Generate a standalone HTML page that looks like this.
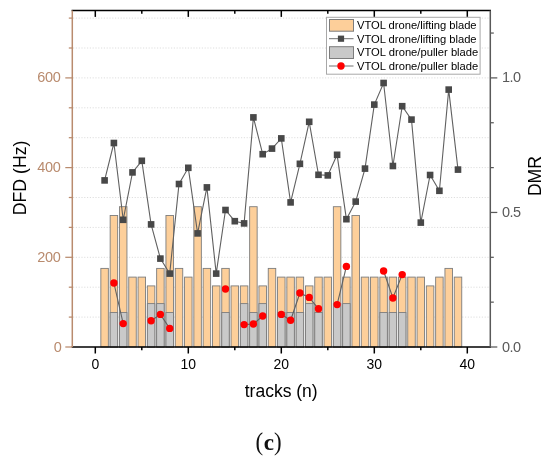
<!DOCTYPE html>
<html lang="en"><head><meta charset="utf-8"><title>Figure (c)</title>
<style>html,body{margin:0;padding:0;background:#fff}body{width:550px;height:460px;overflow:hidden}</style></head>
<body>
<svg width="550" height="460" viewBox="0 0 550 460" style="display:block">
<rect width="550" height="460" fill="#fff"/>
<line x1="73" x2="490" y1="317.1" y2="317.1" stroke="#dedede" stroke-width="1" stroke-dasharray="1.2 1.6"/>
<line x1="73" x2="490" y1="287.2" y2="287.2" stroke="#dedede" stroke-width="1" stroke-dasharray="1.2 1.6"/>
<line x1="73" x2="490" y1="257.3" y2="257.3" stroke="#dedede" stroke-width="1" stroke-dasharray="1.2 1.6"/>
<line x1="73" x2="490" y1="227.4" y2="227.4" stroke="#dedede" stroke-width="1" stroke-dasharray="1.2 1.6"/>
<line x1="73" x2="490" y1="197.5" y2="197.5" stroke="#dedede" stroke-width="1" stroke-dasharray="1.2 1.6"/>
<line x1="73" x2="490" y1="167.6" y2="167.6" stroke="#dedede" stroke-width="1" stroke-dasharray="1.2 1.6"/>
<line x1="73" x2="490" y1="137.7" y2="137.7" stroke="#dedede" stroke-width="1" stroke-dasharray="1.2 1.6"/>
<line x1="73" x2="490" y1="107.8" y2="107.8" stroke="#dedede" stroke-width="1" stroke-dasharray="1.2 1.6"/>
<line x1="73" x2="490" y1="77.9" y2="77.9" stroke="#dedede" stroke-width="1" stroke-dasharray="1.2 1.6"/>
<line x1="73" x2="490" y1="48.0" y2="48.0" stroke="#dedede" stroke-width="1" stroke-dasharray="1.2 1.6"/>
<line x1="73" x2="490" y1="18.1" y2="18.1" stroke="#dedede" stroke-width="1" stroke-dasharray="1.2 1.6"/>
<rect x="100.85" y="268.40" width="7.5" height="78.60" fill="#FDCF9A" stroke="#7d7d7d" stroke-width="0.9"/>
<rect x="110.15" y="215.50" width="7.5" height="131.50" fill="#FDCF9A" stroke="#7d7d7d" stroke-width="0.9"/>
<rect x="119.45" y="206.70" width="7.5" height="140.30" fill="#FDCF9A" stroke="#7d7d7d" stroke-width="0.9"/>
<rect x="128.75" y="277.10" width="7.5" height="69.90" fill="#FDCF9A" stroke="#7d7d7d" stroke-width="0.9"/>
<rect x="138.05" y="277.10" width="7.5" height="69.90" fill="#FDCF9A" stroke="#7d7d7d" stroke-width="0.9"/>
<rect x="147.35" y="285.90" width="7.5" height="61.10" fill="#FDCF9A" stroke="#7d7d7d" stroke-width="0.9"/>
<rect x="156.65" y="268.40" width="7.5" height="78.60" fill="#FDCF9A" stroke="#7d7d7d" stroke-width="0.9"/>
<rect x="165.95" y="215.50" width="7.5" height="131.50" fill="#FDCF9A" stroke="#7d7d7d" stroke-width="0.9"/>
<rect x="175.25" y="268.40" width="7.5" height="78.60" fill="#FDCF9A" stroke="#7d7d7d" stroke-width="0.9"/>
<rect x="184.55" y="277.10" width="7.5" height="69.90" fill="#FDCF9A" stroke="#7d7d7d" stroke-width="0.9"/>
<rect x="193.85" y="206.70" width="7.5" height="140.30" fill="#FDCF9A" stroke="#7d7d7d" stroke-width="0.9"/>
<rect x="203.15" y="268.40" width="7.5" height="78.60" fill="#FDCF9A" stroke="#7d7d7d" stroke-width="0.9"/>
<rect x="212.45" y="285.90" width="7.5" height="61.10" fill="#FDCF9A" stroke="#7d7d7d" stroke-width="0.9"/>
<rect x="221.75" y="268.40" width="7.5" height="78.60" fill="#FDCF9A" stroke="#7d7d7d" stroke-width="0.9"/>
<rect x="231.05" y="285.90" width="7.5" height="61.10" fill="#FDCF9A" stroke="#7d7d7d" stroke-width="0.9"/>
<rect x="240.35" y="285.90" width="7.5" height="61.10" fill="#FDCF9A" stroke="#7d7d7d" stroke-width="0.9"/>
<rect x="249.65" y="206.70" width="7.5" height="140.30" fill="#FDCF9A" stroke="#7d7d7d" stroke-width="0.9"/>
<rect x="258.95" y="285.90" width="7.5" height="61.10" fill="#FDCF9A" stroke="#7d7d7d" stroke-width="0.9"/>
<rect x="268.25" y="268.40" width="7.5" height="78.60" fill="#FDCF9A" stroke="#7d7d7d" stroke-width="0.9"/>
<rect x="277.55" y="277.10" width="7.5" height="69.90" fill="#FDCF9A" stroke="#7d7d7d" stroke-width="0.9"/>
<rect x="286.85" y="277.10" width="7.5" height="69.90" fill="#FDCF9A" stroke="#7d7d7d" stroke-width="0.9"/>
<rect x="296.15" y="277.10" width="7.5" height="69.90" fill="#FDCF9A" stroke="#7d7d7d" stroke-width="0.9"/>
<rect x="305.45" y="285.90" width="7.5" height="61.10" fill="#FDCF9A" stroke="#7d7d7d" stroke-width="0.9"/>
<rect x="314.75" y="277.10" width="7.5" height="69.90" fill="#FDCF9A" stroke="#7d7d7d" stroke-width="0.9"/>
<rect x="324.05" y="277.10" width="7.5" height="69.90" fill="#FDCF9A" stroke="#7d7d7d" stroke-width="0.9"/>
<rect x="333.35" y="206.70" width="7.5" height="140.30" fill="#FDCF9A" stroke="#7d7d7d" stroke-width="0.9"/>
<rect x="342.65" y="277.10" width="7.5" height="69.90" fill="#FDCF9A" stroke="#7d7d7d" stroke-width="0.9"/>
<rect x="351.95" y="215.50" width="7.5" height="131.50" fill="#FDCF9A" stroke="#7d7d7d" stroke-width="0.9"/>
<rect x="361.25" y="277.10" width="7.5" height="69.90" fill="#FDCF9A" stroke="#7d7d7d" stroke-width="0.9"/>
<rect x="370.55" y="277.10" width="7.5" height="69.90" fill="#FDCF9A" stroke="#7d7d7d" stroke-width="0.9"/>
<rect x="379.85" y="277.10" width="7.5" height="69.90" fill="#FDCF9A" stroke="#7d7d7d" stroke-width="0.9"/>
<rect x="389.15" y="277.10" width="7.5" height="69.90" fill="#FDCF9A" stroke="#7d7d7d" stroke-width="0.9"/>
<rect x="398.45" y="277.10" width="7.5" height="69.90" fill="#FDCF9A" stroke="#7d7d7d" stroke-width="0.9"/>
<rect x="407.75" y="277.10" width="7.5" height="69.90" fill="#FDCF9A" stroke="#7d7d7d" stroke-width="0.9"/>
<rect x="417.05" y="277.10" width="7.5" height="69.90" fill="#FDCF9A" stroke="#7d7d7d" stroke-width="0.9"/>
<rect x="426.35" y="285.90" width="7.5" height="61.10" fill="#FDCF9A" stroke="#7d7d7d" stroke-width="0.9"/>
<rect x="435.65" y="277.10" width="7.5" height="69.90" fill="#FDCF9A" stroke="#7d7d7d" stroke-width="0.9"/>
<rect x="444.95" y="268.40" width="7.5" height="78.60" fill="#FDCF9A" stroke="#7d7d7d" stroke-width="0.9"/>
<rect x="454.25" y="277.10" width="7.5" height="69.90" fill="#FDCF9A" stroke="#7d7d7d" stroke-width="0.9"/>
<rect x="110.15" y="312.50" width="7.5" height="34.50" fill="#C9C9C9" stroke="#7d7d7d" stroke-width="0.9"/>
<rect x="119.45" y="312.50" width="7.5" height="34.50" fill="#C9C9C9" stroke="#7d7d7d" stroke-width="0.9"/>
<rect x="147.35" y="303.60" width="7.5" height="43.40" fill="#C9C9C9" stroke="#7d7d7d" stroke-width="0.9"/>
<rect x="156.65" y="303.60" width="7.5" height="43.40" fill="#C9C9C9" stroke="#7d7d7d" stroke-width="0.9"/>
<rect x="165.95" y="312.50" width="7.5" height="34.50" fill="#C9C9C9" stroke="#7d7d7d" stroke-width="0.9"/>
<rect x="221.75" y="312.50" width="7.5" height="34.50" fill="#C9C9C9" stroke="#7d7d7d" stroke-width="0.9"/>
<rect x="240.35" y="303.60" width="7.5" height="43.40" fill="#C9C9C9" stroke="#7d7d7d" stroke-width="0.9"/>
<rect x="249.65" y="312.50" width="7.5" height="34.50" fill="#C9C9C9" stroke="#7d7d7d" stroke-width="0.9"/>
<rect x="258.95" y="303.60" width="7.5" height="43.40" fill="#C9C9C9" stroke="#7d7d7d" stroke-width="0.9"/>
<rect x="277.55" y="312.50" width="7.5" height="34.50" fill="#C9C9C9" stroke="#7d7d7d" stroke-width="0.9"/>
<rect x="286.85" y="312.50" width="7.5" height="34.50" fill="#C9C9C9" stroke="#7d7d7d" stroke-width="0.9"/>
<rect x="296.15" y="312.50" width="7.5" height="34.50" fill="#C9C9C9" stroke="#7d7d7d" stroke-width="0.9"/>
<rect x="305.45" y="303.60" width="7.5" height="43.40" fill="#C9C9C9" stroke="#7d7d7d" stroke-width="0.9"/>
<rect x="314.75" y="312.50" width="7.5" height="34.50" fill="#C9C9C9" stroke="#7d7d7d" stroke-width="0.9"/>
<rect x="333.35" y="303.60" width="7.5" height="43.40" fill="#C9C9C9" stroke="#7d7d7d" stroke-width="0.9"/>
<rect x="342.65" y="303.60" width="7.5" height="43.40" fill="#C9C9C9" stroke="#7d7d7d" stroke-width="0.9"/>
<rect x="379.85" y="312.50" width="7.5" height="34.50" fill="#C9C9C9" stroke="#7d7d7d" stroke-width="0.9"/>
<rect x="389.15" y="312.50" width="7.5" height="34.50" fill="#C9C9C9" stroke="#7d7d7d" stroke-width="0.9"/>
<rect x="398.45" y="312.50" width="7.5" height="34.50" fill="#C9C9C9" stroke="#7d7d7d" stroke-width="0.9"/>
<polyline points="104.6,180.4 113.9,143.0 123.2,219.8 132.5,172.4 141.8,160.8 151.1,224.4 160.4,258.6 169.7,273.6 179.0,184.0 188.3,167.8 197.6,233.4 206.9,187.4 216.2,273.6 225.5,210.0 234.8,221.2 244.1,223.4 253.4,117.4 262.7,154.2 272.0,148.6 281.3,138.4 290.6,202.4 299.9,163.8 309.2,121.8 318.5,174.8 327.8,175.4 337.1,154.8 346.4,219.2 355.7,201.6 365.0,168.6 374.3,104.6 383.6,83.0 392.9,166.0 402.2,106.2 411.5,119.6 420.8,222.6 430.1,175.0 439.4,190.8 448.7,89.6 458.0,169.6" fill="none" stroke="#606060" stroke-width="1.1"/>
<rect x="101.3" y="177.1" width="6.6" height="6.6" fill="#484848"/>
<rect x="110.6" y="139.7" width="6.6" height="6.6" fill="#484848"/>
<rect x="119.9" y="216.5" width="6.6" height="6.6" fill="#484848"/>
<rect x="129.2" y="169.1" width="6.6" height="6.6" fill="#484848"/>
<rect x="138.5" y="157.5" width="6.6" height="6.6" fill="#484848"/>
<rect x="147.8" y="221.1" width="6.6" height="6.6" fill="#484848"/>
<rect x="157.1" y="255.3" width="6.6" height="6.6" fill="#484848"/>
<rect x="166.4" y="270.3" width="6.6" height="6.6" fill="#484848"/>
<rect x="175.7" y="180.7" width="6.6" height="6.6" fill="#484848"/>
<rect x="185.0" y="164.5" width="6.6" height="6.6" fill="#484848"/>
<rect x="194.3" y="230.1" width="6.6" height="6.6" fill="#484848"/>
<rect x="203.6" y="184.1" width="6.6" height="6.6" fill="#484848"/>
<rect x="212.9" y="270.3" width="6.6" height="6.6" fill="#484848"/>
<rect x="222.2" y="206.7" width="6.6" height="6.6" fill="#484848"/>
<rect x="231.5" y="217.9" width="6.6" height="6.6" fill="#484848"/>
<rect x="240.8" y="220.1" width="6.6" height="6.6" fill="#484848"/>
<rect x="250.1" y="114.1" width="6.6" height="6.6" fill="#484848"/>
<rect x="259.4" y="150.9" width="6.6" height="6.6" fill="#484848"/>
<rect x="268.7" y="145.3" width="6.6" height="6.6" fill="#484848"/>
<rect x="278.0" y="135.1" width="6.6" height="6.6" fill="#484848"/>
<rect x="287.3" y="199.1" width="6.6" height="6.6" fill="#484848"/>
<rect x="296.6" y="160.5" width="6.6" height="6.6" fill="#484848"/>
<rect x="305.9" y="118.5" width="6.6" height="6.6" fill="#484848"/>
<rect x="315.2" y="171.5" width="6.6" height="6.6" fill="#484848"/>
<rect x="324.5" y="172.1" width="6.6" height="6.6" fill="#484848"/>
<rect x="333.8" y="151.5" width="6.6" height="6.6" fill="#484848"/>
<rect x="343.1" y="215.9" width="6.6" height="6.6" fill="#484848"/>
<rect x="352.4" y="198.3" width="6.6" height="6.6" fill="#484848"/>
<rect x="361.7" y="165.3" width="6.6" height="6.6" fill="#484848"/>
<rect x="371.0" y="101.3" width="6.6" height="6.6" fill="#484848"/>
<rect x="380.3" y="79.7" width="6.6" height="6.6" fill="#484848"/>
<rect x="389.6" y="162.7" width="6.6" height="6.6" fill="#484848"/>
<rect x="398.9" y="102.9" width="6.6" height="6.6" fill="#484848"/>
<rect x="408.2" y="116.3" width="6.6" height="6.6" fill="#484848"/>
<rect x="417.5" y="219.3" width="6.6" height="6.6" fill="#484848"/>
<rect x="426.8" y="171.7" width="6.6" height="6.6" fill="#484848"/>
<rect x="436.1" y="187.5" width="6.6" height="6.6" fill="#484848"/>
<rect x="445.4" y="86.3" width="6.6" height="6.6" fill="#484848"/>
<rect x="454.7" y="166.3" width="6.6" height="6.6" fill="#484848"/>
<polyline points="113.9,283.0 123.2,323.6" fill="none" stroke="#606060" stroke-width="1.1"/>
<polyline points="151.1,320.8 160.4,314.4 169.7,328.4" fill="none" stroke="#606060" stroke-width="1.1"/>
<polyline points="244.1,324.6 253.4,324.0 262.7,316.0" fill="none" stroke="#606060" stroke-width="1.1"/>
<polyline points="281.3,314.4 290.6,320.3 299.9,293.0 309.2,297.4 318.5,308.8" fill="none" stroke="#606060" stroke-width="1.1"/>
<polyline points="337.1,304.6 346.4,266.4" fill="none" stroke="#606060" stroke-width="1.1"/>
<polyline points="383.6,271.0 392.9,298.0 402.2,274.6" fill="none" stroke="#606060" stroke-width="1.1"/>
<circle cx="113.9" cy="283.0" r="3.7" fill="#FF0000"/>
<circle cx="123.2" cy="323.6" r="3.7" fill="#FF0000"/>
<circle cx="151.1" cy="320.8" r="3.7" fill="#FF0000"/>
<circle cx="160.4" cy="314.4" r="3.7" fill="#FF0000"/>
<circle cx="169.7" cy="328.4" r="3.7" fill="#FF0000"/>
<circle cx="225.5" cy="289.0" r="3.7" fill="#FF0000"/>
<circle cx="244.1" cy="324.6" r="3.7" fill="#FF0000"/>
<circle cx="253.4" cy="324.0" r="3.7" fill="#FF0000"/>
<circle cx="262.7" cy="316.0" r="3.7" fill="#FF0000"/>
<circle cx="281.3" cy="314.4" r="3.7" fill="#FF0000"/>
<circle cx="290.6" cy="320.3" r="3.7" fill="#FF0000"/>
<circle cx="299.9" cy="293.0" r="3.7" fill="#FF0000"/>
<circle cx="309.2" cy="297.4" r="3.7" fill="#FF0000"/>
<circle cx="318.5" cy="308.8" r="3.7" fill="#FF0000"/>
<circle cx="337.1" cy="304.6" r="3.7" fill="#FF0000"/>
<circle cx="346.4" cy="266.4" r="3.7" fill="#FF0000"/>
<circle cx="383.6" cy="271.0" r="3.7" fill="#FF0000"/>
<circle cx="392.9" cy="298.0" r="3.7" fill="#FF0000"/>
<circle cx="402.2" cy="274.6" r="3.7" fill="#FF0000"/>
<line x1="71.6" x2="491.0" y1="10.4" y2="10.4" stroke="#000" stroke-width="1.5"/>
<line x1="71.6" x2="491.0" y1="347.0" y2="347.0" stroke="#000" stroke-width="1.5"/>
<line x1="72.3" x2="72.3" y1="10.4" y2="347.0" stroke="#B98B6E" stroke-width="1.5"/>
<line x1="490.3" x2="490.3" y1="10.4" y2="347.0" stroke="#595959" stroke-width="1.5"/>
<line x1="95.3" x2="95.3" y1="10.4" y2="16.9" stroke="#000" stroke-width="1.5"/>
<line x1="95.3" x2="95.3" y1="347.0" y2="353.5" stroke="#000" stroke-width="1.5"/>
<text transform="translate(95.3,369.3) scale(1,1.075)" font-family='"Liberation Sans", Arial, sans-serif' font-size="14" text-anchor="middle" fill="#000">0</text>
<line x1="141.8" x2="141.8" y1="10.4" y2="13.7" stroke="#000" stroke-width="1.5"/>
<line x1="141.8" x2="141.8" y1="347.0" y2="350.3" stroke="#000" stroke-width="1.5"/>
<line x1="188.3" x2="188.3" y1="10.4" y2="16.9" stroke="#000" stroke-width="1.5"/>
<line x1="188.3" x2="188.3" y1="347.0" y2="353.5" stroke="#000" stroke-width="1.5"/>
<text transform="translate(188.3,369.3) scale(1,1.075)" font-family='"Liberation Sans", Arial, sans-serif' font-size="14" text-anchor="middle" fill="#000">10</text>
<line x1="234.8" x2="234.8" y1="10.4" y2="13.7" stroke="#000" stroke-width="1.5"/>
<line x1="234.8" x2="234.8" y1="347.0" y2="350.3" stroke="#000" stroke-width="1.5"/>
<line x1="281.3" x2="281.3" y1="10.4" y2="16.9" stroke="#000" stroke-width="1.5"/>
<line x1="281.3" x2="281.3" y1="347.0" y2="353.5" stroke="#000" stroke-width="1.5"/>
<text transform="translate(281.3,369.3) scale(1,1.075)" font-family='"Liberation Sans", Arial, sans-serif' font-size="14" text-anchor="middle" fill="#000">20</text>
<line x1="327.8" x2="327.8" y1="10.4" y2="13.7" stroke="#000" stroke-width="1.5"/>
<line x1="327.8" x2="327.8" y1="347.0" y2="350.3" stroke="#000" stroke-width="1.5"/>
<line x1="374.3" x2="374.3" y1="10.4" y2="16.9" stroke="#000" stroke-width="1.5"/>
<line x1="374.3" x2="374.3" y1="347.0" y2="353.5" stroke="#000" stroke-width="1.5"/>
<text transform="translate(374.3,369.3) scale(1,1.075)" font-family='"Liberation Sans", Arial, sans-serif' font-size="14" text-anchor="middle" fill="#000">30</text>
<line x1="420.8" x2="420.8" y1="10.4" y2="13.7" stroke="#000" stroke-width="1.5"/>
<line x1="420.8" x2="420.8" y1="347.0" y2="350.3" stroke="#000" stroke-width="1.5"/>
<line x1="467.3" x2="467.3" y1="10.4" y2="16.9" stroke="#000" stroke-width="1.5"/>
<line x1="467.3" x2="467.3" y1="347.0" y2="353.5" stroke="#000" stroke-width="1.5"/>
<text transform="translate(467.3,369.3) scale(1,1.075)" font-family='"Liberation Sans", Arial, sans-serif' font-size="14" text-anchor="middle" fill="#000">40</text>
<line x1="65.3" x2="72.3" y1="347.0" y2="347.0" stroke="#B98B6E" stroke-width="1.25"/>
<text transform="translate(61.5,352.0) scale(1,1.06)" font-family='"Liberation Sans", Arial, sans-serif' font-size="14.5" letter-spacing="-0.3" text-anchor="end" fill="#B98B6E">0</text>
<line x1="68.8" x2="72.3" y1="317.1" y2="317.1" stroke="#B98B6E" stroke-width="1.25"/>
<line x1="68.8" x2="72.3" y1="287.2" y2="287.2" stroke="#B98B6E" stroke-width="1.25"/>
<line x1="65.3" x2="72.3" y1="257.3" y2="257.3" stroke="#B98B6E" stroke-width="1.25"/>
<text transform="translate(60.6,262.0) scale(1,1.06)" font-family='"Liberation Sans", Arial, sans-serif' font-size="14.5" letter-spacing="-0.3" text-anchor="end" fill="#B98B6E">200</text>
<line x1="68.8" x2="72.3" y1="227.4" y2="227.4" stroke="#B98B6E" stroke-width="1.25"/>
<line x1="68.8" x2="72.3" y1="197.5" y2="197.5" stroke="#B98B6E" stroke-width="1.25"/>
<line x1="65.3" x2="72.3" y1="167.60000000000002" y2="167.60000000000002" stroke="#B98B6E" stroke-width="1.25"/>
<text transform="translate(60.6,172.0) scale(1,1.06)" font-family='"Liberation Sans", Arial, sans-serif' font-size="14.5" letter-spacing="-0.3" text-anchor="end" fill="#B98B6E">400</text>
<line x1="68.8" x2="72.3" y1="137.70000000000002" y2="137.70000000000002" stroke="#B98B6E" stroke-width="1.25"/>
<line x1="68.8" x2="72.3" y1="107.80000000000001" y2="107.80000000000001" stroke="#B98B6E" stroke-width="1.25"/>
<line x1="65.3" x2="72.3" y1="77.90000000000003" y2="77.90000000000003" stroke="#B98B6E" stroke-width="1.25"/>
<text transform="translate(60.6,82.0) scale(1,1.06)" font-family='"Liberation Sans", Arial, sans-serif' font-size="14.5" letter-spacing="-0.3" text-anchor="end" fill="#B98B6E">600</text>
<line x1="68.8" x2="72.3" y1="48.0" y2="48.0" stroke="#B98B6E" stroke-width="1.25"/>
<line x1="68.8" x2="72.3" y1="18.100000000000023" y2="18.100000000000023" stroke="#B98B6E" stroke-width="1.25"/>
<line x1="490.3" x2="497.3" y1="347.0" y2="347.0" stroke="#595959" stroke-width="1.25"/>
<text transform="translate(502.0,352.0) scale(1,1.04)" font-family='"Liberation Sans", Arial, sans-serif' font-size="14.5" letter-spacing="-0.6" text-anchor="start" fill="#595959">0.0</text>
<line x1="490.3" x2="493.8" y1="302.15" y2="302.15" stroke="#595959" stroke-width="1.25"/>
<line x1="490.3" x2="493.8" y1="257.3" y2="257.3" stroke="#595959" stroke-width="1.25"/>
<line x1="490.3" x2="497.3" y1="212.45" y2="212.45" stroke="#595959" stroke-width="1.25"/>
<text transform="translate(502.0,217.0) scale(1,1.04)" font-family='"Liberation Sans", Arial, sans-serif' font-size="14.5" letter-spacing="-0.6" text-anchor="start" fill="#595959">0.5</text>
<line x1="490.3" x2="493.8" y1="167.6" y2="167.6" stroke="#595959" stroke-width="1.25"/>
<line x1="490.3" x2="493.8" y1="122.75" y2="122.75" stroke="#595959" stroke-width="1.25"/>
<line x1="490.3" x2="497.3" y1="77.89999999999998" y2="77.89999999999998" stroke="#595959" stroke-width="1.25"/>
<text transform="translate(502.0,82.0) scale(1,1.04)" font-family='"Liberation Sans", Arial, sans-serif' font-size="14.5" letter-spacing="-0.6" text-anchor="start" fill="#595959">1.0</text>
<line x1="490.3" x2="493.8" y1="33.05000000000001" y2="33.05000000000001" stroke="#595959" stroke-width="1.25"/>
<text transform="translate(26.2,177.9) rotate(-90) scale(1,1.07)" font-family='"Liberation Sans", Arial, sans-serif' font-size="17.7" text-anchor="middle" fill="#000">DFD (Hz)</text>
<text transform="translate(540.5,176.1) rotate(-90) scale(1,1.04)" font-family='"Liberation Sans", Arial, sans-serif' font-size="17.6" text-anchor="middle" fill="#000">DMR</text>
<text x="281.2" y="397.3" font-family='"Liberation Sans", Arial, sans-serif' font-size="17.5" text-anchor="middle" fill="#000">tracks (n)</text>
<text transform="translate(255.5,449.9) scale(1,1.08)" font-family='"Liberation Serif", serif' font-size="23" fill="#111">(</text>
<text x="263.7" y="449.5" font-family='"Liberation Serif", serif' font-size="23" font-weight="bold" fill="#111">c</text>
<text transform="translate(274.0,449.9) scale(1,1.08)" font-family='"Liberation Serif", serif' font-size="23" fill="#111">)</text>
<rect x="326.5" y="17.3" width="153.6" height="56.9" fill="#fff" stroke="#a8a8a8" stroke-width="1"/>
<rect x="329.5" y="19.5" width="24" height="11.7" fill="#FDCF9A" stroke="#7d7d7d" stroke-width="1"/>
<line x1="329" x2="353.5" y1="38.7" y2="38.7" stroke="#606060" stroke-width="0.9"/>
<rect x="337.9" y="35.6" width="6.2" height="6.2" fill="#484848"/>
<rect x="329.5" y="46.7" width="24" height="11.8" fill="#C9C9C9" stroke="#7d7d7d" stroke-width="1"/>
<line x1="329" x2="353.5" y1="66.0" y2="66.0" stroke="#606060" stroke-width="0.9"/>
<circle cx="341" cy="66.0" r="3.7" fill="#FF0000"/>
<text x="357" y="29.0" font-family='"Liberation Sans", Arial, sans-serif' font-size="11.2" letter-spacing="-0.02" fill="#000">VTOL drone/lifting blade</text>
<text x="357" y="42.5" font-family='"Liberation Sans", Arial, sans-serif' font-size="11.2" letter-spacing="-0.02" fill="#000">VTOL drone/lifting blade</text>
<text x="357" y="56.3" font-family='"Liberation Sans", Arial, sans-serif' font-size="11.2" letter-spacing="0" fill="#000">VTOL drone/puller blade</text>
<text x="357" y="69.8" font-family='"Liberation Sans", Arial, sans-serif' font-size="11.2" letter-spacing="0" fill="#000">VTOL drone/puller blade</text>
</svg>
</body></html>
